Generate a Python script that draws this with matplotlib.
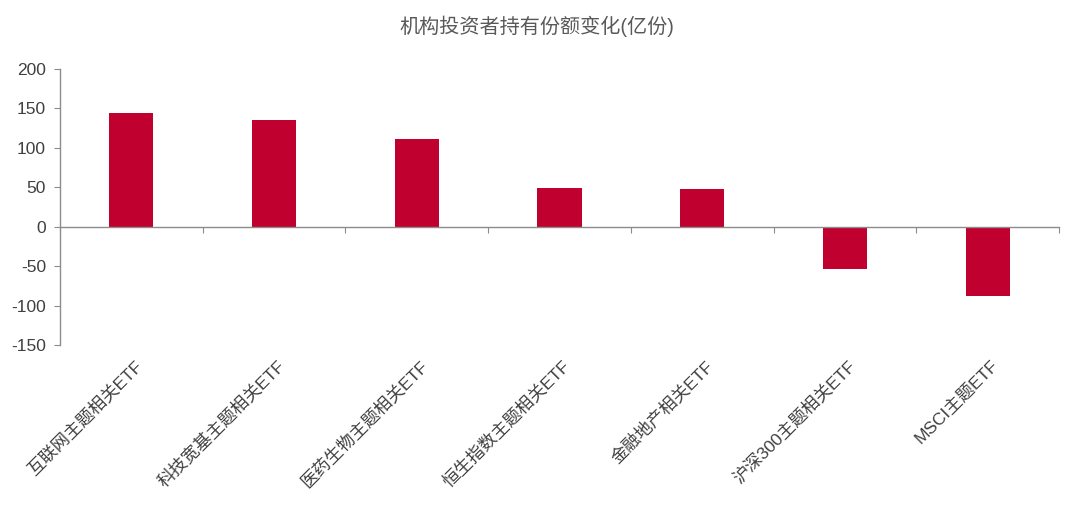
import matplotlib.pyplot as plt
from matplotlib.transforms import offset_copy

plt.rcParams['font.family'] = ['Liberation Sans', 'Noto Sans CJK SC', 'DejaVu Sans']
plt.rcParams['axes.unicode_minus'] = False

categories = ['互联网主题相关ETF', '科技宽基主题相关ETF', '医药生物主题相关ETF',
              '恒生指数主题相关ETF', '金融地产相关ETF', '沪深300主题相关ETF', 'MSCI主题ETF']
values = [144, 135, 111, 49, 48, -54, -88]
title = '机构投资者持有份额变化(亿份)'

bar_color = '#C0002E'
axis_color = '#8C8C8C'
text_color = '#404040'


def main():
    fig = plt.figure(figsize=(10.8, 5.09), dpi=100)
    ax = fig.add_axes([60 / 1080, 1 - 345 / 509, 999 / 1080, 276 / 509])

    x = list(range(len(categories)))
    ax.bar(x, values, width=0.31, color=bar_color, zorder=2)

    ax.set_xlim(-0.5, len(categories) - 0.5)
    ax.set_ylim(-150, 200)
    ax.set_yticks(range(-150, 201, 50))

    # x axis sits at zero, ticks between categories
    ax.spines['bottom'].set_position(('data', 0))
    for side in ['top', 'right']:
        ax.spines[side].set_visible(False)
    for side in ['left', 'bottom']:
        ax.spines[side].set_color(axis_color)
        ax.spines[side].set_linewidth(1.0)
    ax.set_xticks([i + 0.5 for i in x])
    ax.set_xticklabels([])
    ax.tick_params(axis='x', direction='out', length=4, color=axis_color)
    ax.tick_params(axis='y', direction='out', length=4, color=axis_color,
                   labelsize=12.5, labelcolor=text_color, pad=6)

    label_trans = offset_copy(ax.transData, fig=fig, x=2, y=-12, units='dots')
    for i, name in zip(x, categories):
        ax.text(i, -150, name, rotation=45, rotation_mode='anchor',
                ha='right', va='top', fontsize=12.5, color=text_color,
                transform=label_trans)

    fig.text(0.497, 0.949, title, ha='center', va='center', fontsize=14.5, color='#595959')
    fig.savefig('out.png', dpi=100)


if __name__ == '__main__':
    main()
